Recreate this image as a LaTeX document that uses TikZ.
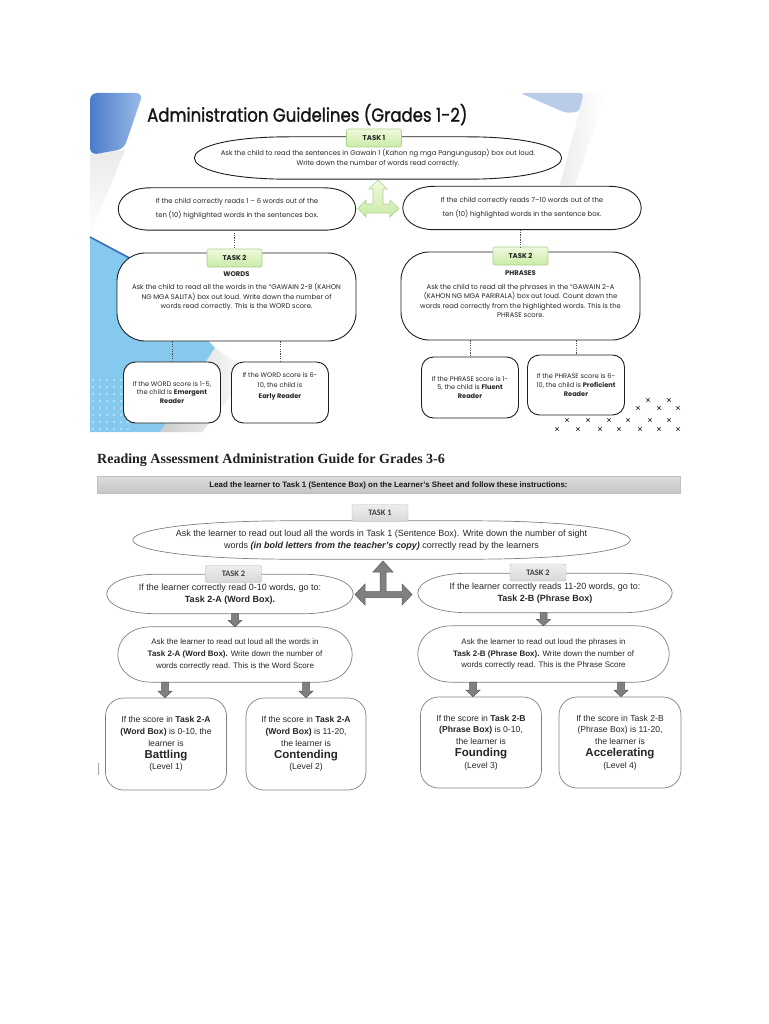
\documentclass[tikz,border=0pt]{standalone}
\usepackage{fontspec}
\setmainfont{Liberation Sans}
\newfontfamily\pop{Poppins}
\newfontfamily\popt{Poppins}[FakeStretch=0.87,FakeBold=1.2]
\newfontfamily\ars{Liberation Sans}
\newfontfamily\tms{Liberation Serif}
\newfontfamily\carl{Carlito}
\usetikzlibrary{calc,shapes.geometric}
\pgfdeclarelayer{deco}
\pgfdeclarelayer{shp}
\pgfsetlayers{deco,shp,main}
\definecolor{gbord}{HTML}{A9D18E}
\definecolor{gtop}{HTML}{F0FADF}
\definecolor{gbot}{HTML}{C9EBA5}
\definecolor{lblue}{HTML}{86C9EE}
\definecolor{dblue}{HTML}{3A6FC0}
\definecolor{mblue}{HTML}{4A7CC8}
\definecolor{pblue}{HTML}{9CBCE8}
\definecolor{sblue}{HTML}{B9CDE8}
\definecolor{boxline}{HTML}{1E1E1E}
\definecolor{gline}{HTML}{808080}
\definecolor{garrfill}{HTML}{808080}
\definecolor{garrdraw}{HTML}{5A5A5A}
\definecolor{txtgray}{HTML}{262626}
\definecolor{btext}{HTML}{262626}
\tikzset{
  tkgreen/.style={rectangle, rounded corners=2pt, draw=gbord, line width=0.6pt, top color=gtop, bottom color=gbot,
    minimum width=55pt, minimum height=18pt, inner sep=0pt, font=\pop\bfseries\fontsize{7}{8}\selectfont, text=txtgray},
  tkgray/.style={rectangle, rounded corners=1.5pt, draw=gray!55, line width=0.4pt, top color=gray!14, bottom color=gray!30,
    minimum width=56pt, minimum height=17pt, inner sep=0pt, font=\carl\bfseries\fontsize{8.4}{9}\selectfont, text=black!75},
  frame/.style={rectangle, inner sep=0pt, align=center},
  ovtop/.style={draw=boxline, line width=0.9pt, fill=white},
  ovbot/.style={draw=gline, line width=0.7pt, fill=white},
  ttxt/.style={align=center, inner sep=0pt, text=txtgray},
  btxt/.style={align=center, inner sep=0pt, text=btext, font=\ars\fontsize{9}{12}\selectfont},
  dsh/.style={draw=gray!60!black, line width=0.5pt, dash pattern=on 1.2pt off 1.2pt},
  blockarr/.style={fill=garrfill, draw=garrdraw, line width=0.5pt},
  bigbox/.style={rectangle, rounded corners=28pt, draw=boxline, line width=0.9pt, fill=white, inner sep=0pt},
  smallbox/.style={rectangle, rounded corners=12pt, draw=boxline, line width=0.9pt, fill=white, inner sep=0pt, align=center,
    text=txtgray, font=\pop\fontsize{6.6}{8.6}\selectfont, minimum width=97pt, minimum height=61pt},
  lvlbox/.style={rectangle, rounded corners=18pt, draw=gline, line width=0.7pt, fill=white, inner sep=0pt, align=center,
    text=btext, font=\ars\fontsize{8.6}{11.8}\selectfont},
  crossmk/.style={draw=black!80, line width=0.6pt}
}
\newcommand\ovalshape[3]{%
  \begin{pgfonlayer}{shp}
  \path[#1] ([xshift=#3pt]#2.north west) -- ([xshift=-#3pt]#2.north east)
    .. controls ([xshift=0.3333*#3pt]#2.north east) and ([xshift=0.3333*#3pt]#2.south east) .. ([xshift=-#3pt]#2.south east)
    -- ([xshift=#3pt]#2.south west)
    .. controls ([xshift=-0.3333*#3pt]#2.south west) and ([xshift=-0.3333*#3pt]#2.north west) .. cycle;
  \end{pgfonlayer}}
\newcommand\garrow[2]{%
  \path[blockarr] let \p1=#1, \p2=#2 in
    (\x1-3.5pt,\y1) -- (\x1+3.5pt,\y1) -- (\x1+3.5pt,\y2+6.5pt) -- (\x1+7pt,\y2+6.5pt) -- (\x1,\y2)
    -- (\x1-7pt,\y2+6.5pt) -- (\x1-3.5pt,\y2+6.5pt) -- cycle;}
\newcommand\bigw[1]{{\fontsize{11.5}{12}\selectfont\bfseries #1}}
\begin{document}
\begin{tikzpicture}[x=1pt,y=-1pt]
\path[use as bounding box] (0,0) rectangle (768,1024);
% ================= decorations (top image) =================
\begin{pgfonlayer}{deco}
\fill[white] (0,0) rectangle (768,1024);
\fill[white] (90,93) rectangle (690,432);
\shade[top color=gray!16, bottom color=white] (90,154) -- (125,150) -- (90,236) -- cycle;
\shade[left color=mblue, right color=pblue, rounded corners=7pt] (90,93) -- (143,93) -- (124,149) -- (90,155) -- cycle;
\fill[sblue, rounded corners=4pt] (520,93) -- (584,93) -- (579,112) -- (566,113) -- cycle;
\shade[left color=gray!14, right color=white] (584,93) -- (606,93) -- (575,185) -- (560,185) -- cycle;
\fill[lblue] (90,238) -- (133,259) -- (215,348) -- (160,432) -- (90,432) -- cycle;
\draw[dblue, line width=1.6pt] (90,237) -- (135,261);
\shade[left color=gray!40, right color=white] (215,348) -- (250,372) -- (202,432) -- (160,432) -- cycle;
\foreach \xx in {93,100,...,128} \foreach \yy in {380,387,...,429} \fill[white, opacity=0.8] (\xx,\yy) circle (0.8pt);
\foreach \xx/\yy in {648/400,669/400,638/408,659/408,678/408,
  567/420,588/420,609/420,628/420,650/420,669/420,
  557/429,578/429,600/429,619/429,640/429,659/429,678/429}
  \draw[crossmk] (\xx-2,\yy-1.6) -- (\xx+2,\yy+1.6) (\xx-1.6,\yy+2) -- (\xx+1.6,\yy-2);
\end{pgfonlayer}
% ================= top section =================
\node[anchor=base west, inner sep=0pt, font=\popt\fontsize{19}{19}\selectfont, text=black!92] (title1) at (147,121.7) {Administration Guidelines (Grades 1-2)};
\node[frame, minimum width=367pt, minimum height=42pt, ttxt, font=\pop\fontsize{6.85}{10.5}\selectfont] (E1) at (378,158)
  {Ask the child to read the sentences in Gawain 1 (Kahon ng mga Pangungusap) box out loud.\\Write down the number of words read correctly.};
\ovalshape{ovtop}{E1}{95}
\node[tkgreen] (T1) at (374,138) {TASK 1};
\node[frame, minimum width=237pt, minimum height=42pt, ttxt, font=\pop\fontsize{6.85}{13.5}\selectfont] (L1) at (237,209)
  {If the child correctly reads 1 – 6 words out of the\\ten (10) highlighted words in the sentences box.};
\ovalshape{ovtop}{L1}{32}
\node[frame, minimum width=238pt, minimum height=43pt, ttxt, font=\pop\fontsize{6.85}{14}\selectfont] (R1) at (522,208)
  {If the child correctly reads 7–10 words out of the\\ten (10) highlighted words in the sentence box.};
\ovalshape{ovtop}{R1}{32}
% green four-way arrow
\path[top color=gtop, bottom color=gbot, draw=gbord, line width=0.6pt]
  (378,180) -- (387,189) -- (383,189) -- (383,204) -- (390,204) -- (390,200) -- (399,208.5) -- (390,217)
  -- (390,213) -- (366,213) -- (366,217) -- (358,208.5) -- (366,200) -- (366,204) -- (373,204)
  -- (373,189) -- (369,189) -- cycle;
% Task 2 boxes
\node[bigbox, minimum width=239pt, minimum height=88pt] (B1) at (236.5,297) {};
\node[ttxt, font=\pop\fontsize{6.8}{9.6}\selectfont] (B1t) at (236.5,291)
  {{\bfseries WORDS}\\[3.5pt]Ask the child to read all the words in the “GAWAIN 2-B (KAHON\\NG MGA SALITA) box out loud. Write down the number of\\words read correctly. This is the WORD score.};
\node[tkgreen] (T2L) at (234.5,258) {TASK 2};
\node[bigbox, minimum width=239pt, minimum height=88pt] (B2) at (520.5,296) {};
\node[ttxt, font=\pop\fontsize{6.8}{9.2}\selectfont] (B2t) at (520.5,294)
  {{\bfseries PHRASES}\\[5pt]Ask the child to read all the phrases in the “GAWAIN 2-A\\(KAHON NG MGA PARIRALA) box out loud. Count down the\\words read correctly from the highlighted words. This is the\\PHRASE score.};
\node[tkgreen] (T2R) at (520.5,256) {TASK 2};
\draw[dsh] (T2L.north |- L1.south) -- (T2L.north);
\draw[dsh] (T2R.north |- R1.south) -- (T2R.north);
% small result boxes
\node[smallbox] (S1) at (172,392.5)
  {If the WORD score is 1-5,\\the child is \textbf{Emergent}\\\textbf{Reader}};
\node[smallbox] (S2) at (280,392.5) {};
\node[ttxt, font=\pop\fontsize{6.6}{10}\selectfont] (S2t) at (280,386)
  {If the WORD score is 6-\\10, the child is\\[1pt]\textbf{Early Reader}};
\node[smallbox] (S3) at (470,387.5)
  {If the PHRASE score is 1-\\5, the child is \textbf{Fluent}\\\textbf{Reader}};
\node[smallbox, minimum height=60pt] (S4) at (576,385)
  {If the PHRASE score is 6-\\10, the child is \textbf{Proficient}\\\textbf{Reader}};
\draw[dsh] (S1.north |- B1.south) -- (S1.north);
\draw[dsh] (S2.north |- B1.south) -- (S2.north);
\draw[dsh] (S3.north |- B2.south) -- (S3.north);
\draw[dsh] (S4.north |- B2.south) -- (S4.north);
% ================= bottom section =================
\node[anchor=base west, inner sep=0pt, font=\tms\bfseries\fontsize{14}{14}\selectfont, text=black!88] (title2) at (97,463)
  {Reading Assessment Administration Guide for Grades 3-6};
\node[rectangle, minimum width=583pt, minimum height=17pt, inner sep=0pt, top color=gray!28, bottom color=gray!46,
  draw=gray!50, line width=0.3pt, font=\ars\bfseries\fontsize{7.9}{9}\selectfont, text=black!90] (bar) at (388.5,485)
  {Lead the learner to Task 1 (Sentence Box) on the Learner’s Sheet and follow these instructions:};
\node[frame, minimum width=497pt, minimum height=38pt, btxt, font=\ars\fontsize{9}{12.4}\selectfont] (BE1) at (381.5,540)
  {Ask the learner to read out loud all the words in Task 1 (Sentence Box). Write down the number of sight\\words \textbf{\textit{(in bold letters from the teacher’s copy)}} correctly read by the learners};
\ovalshape{ovbot}{BE1}{160}
\node[tkgray] (TB1) at (380,513) {TASK 1};
\node[frame, minimum width=246pt, minimum height=39pt, btxt] (BL1) at (230,594)
  {If the learner correctly read 0-10 words, go to:\\\textbf{Task 2-A (Word Box).}};
\ovalshape{ovbot}{BL1}{50}
\node[tkgray] (TB2L) at (233.5,574) {TASK 2};
\node[frame, minimum width=254pt, minimum height=39pt, btxt] (BR1) at (545,593)
  {If the learner correctly reads 11-20 words, go to:\\\textbf{Task 2-B (Phrase Box)}};
\ovalshape{ovbot}{BR1}{50}
\node[tkgray] (TB2R) at (538,572.5) {TASK 2};
% gray four-way arrow
\path[fill=garrfill, draw=garrdraw, line width=0.5pt]
  (383,561) -- (393,572) -- (386,572) -- (386,591.5) -- (402,591.5) -- (402,584) -- (412,594.5) -- (402,605)
  -- (402,597.5) -- (365,597.5) -- (365,605) -- (355,594.5) -- (365,584) -- (365,591.5) -- (380,591.5)
  -- (380,572) -- (373,572) -- cycle;
% level 2
\node[frame, minimum width=234pt, minimum height=55pt, btxt, font=\ars\fontsize{8}{11.8}\selectfont] (BL2) at (235,654.5)
  {Ask the learner to read out loud all the words in\\\textbf{Task 2-A (Word Box).} Write down the number of\\words correctly read. This is the Word Score};
\ovalshape{ovbot}{BL2}{34}
\node[frame, minimum width=251pt, minimum height=56pt, btxt, font=\ars\fontsize{8}{11.8}\selectfont] (BR2) at (543.5,654)
  {Ask the learner to read out loud the phrases in\\\textbf{Task 2-B (Phrase Box).} Write down the number of\\words correctly read. This is the Phrase Score};
\ovalshape{ovbot}{BR2}{34}
\garrow{(BL1.south -| BL2.north)}{(BL2.north)}
\garrow{(BR1.south -| BR2.north)}{(BR2.north)}
% level 3
\node[lvlbox, minimum width=121pt, minimum height=92pt] (C1) at (166,744)
  {If the score in \textbf{Task 2-A}\\\textbf{(Word Box)} is 0-10, the\\learner is\\\bigw{Battling}\\(Level 1)};
\node[lvlbox, minimum width=120pt, minimum height=92pt] (C2) at (306,744)
  {If the score in \textbf{Task 2-A}\\\textbf{(Word Box)} is 11-20,\\the learner is\\\bigw{Contending}\\(Level 2)};
\node[lvlbox, minimum width=121pt, minimum height=91pt] (C3) at (481,742.5)
  {If the score in \textbf{Task 2-B}\\\textbf{(Phrase Box)} is 0-10,\\the learner is\\\bigw{Founding}\\(Level 3)};
\node[lvlbox, minimum width=122pt, minimum height=91pt] (C4) at (620,742.5)
  {If the score in Task 2-B\\(Phrase Box) is 11-20,\\the learner is\\\bigw{Accelerating}\\(Level 4)};
\coordinate (a1) at (165,0);
\coordinate (a2) at (306,0);
\coordinate (a3) at (473,0);
\coordinate (a4) at (621,0);
\garrow{(BL2.south -| a1)}{(C1.north -| a1)}
\garrow{(BL2.south -| a2)}{(C2.north -| a2)}
\garrow{(BR2.south -| a3)}{(C3.north -| a3)}
\garrow{(BR2.south -| a4)}{(C4.north -| a4)}
\draw[gray!70, line width=0.6pt] (98.5,763) -- (98.5,775);
\end{tikzpicture}
\end{document}
